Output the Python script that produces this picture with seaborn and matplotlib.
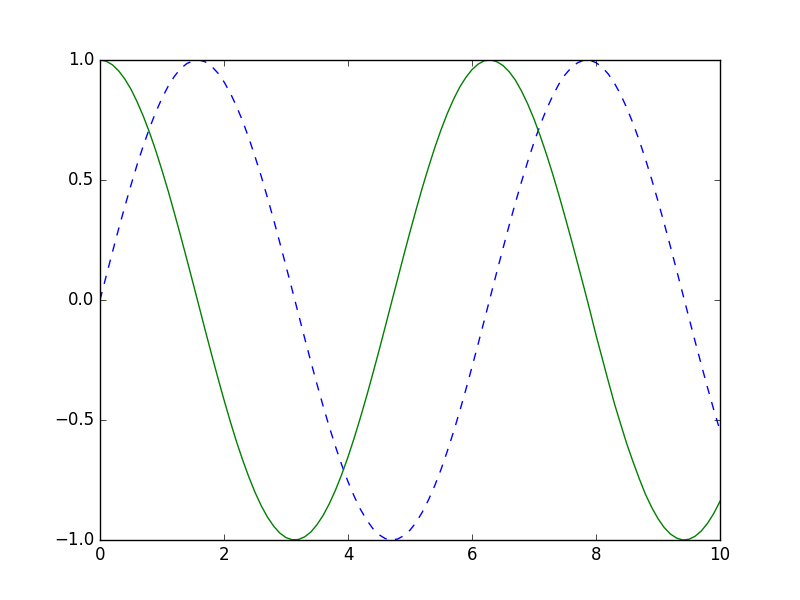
import matplotlib
matplotlib.use("Agg")
import matplotlib.pyplot as plt
import seaborn as sns
import pandas as pd

x_vals = [0.0, 0.1, 0.2, 0.3, 0.4, 0.5, 0.6, 0.7, 0.8, 0.9,
          1.0, 1.1, 1.2, 1.3, 1.4, 1.5, 1.6, 1.7, 1.8, 1.9,
          2.0, 2.1, 2.2, 2.3, 2.4, 2.5, 2.6, 2.7, 2.8, 2.9,
          3.0, 3.1, 3.2, 3.3, 3.4, 3.5, 3.6, 3.7, 3.8, 3.9,
          4.0, 4.1, 4.2, 4.3, 4.4, 4.5, 4.6, 4.7, 4.8, 4.9,
          5.0, 5.1, 5.2, 5.3, 5.4, 5.5, 5.6, 5.7, 5.8, 5.9,
          6.0, 6.1, 6.2, 6.3, 6.4, 6.5, 6.6, 6.7, 6.8, 6.9,
          7.0, 7.1, 7.2, 7.3, 7.4, 7.5, 7.6, 7.7, 7.8, 7.9,
          8.0, 8.1, 8.2, 8.3, 8.4, 8.5, 8.6, 8.7, 8.8, 8.9,
          9.0, 9.1, 9.2, 9.3, 9.4, 9.5, 9.6, 9.7, 9.8, 9.9, 10.0]

sin_vals = [0.000, 0.100, 0.199, 0.296, 0.389, 0.479, 0.565, 0.644, 0.717, 0.783,
            0.841, 0.891, 0.932, 0.964, 0.985, 0.997, 1.000, 0.992, 0.974, 0.946,
            0.909, 0.863, 0.808, 0.746, 0.675, 0.598, 0.516, 0.427, 0.335, 0.239,
            0.141, 0.042, -0.058, -0.158, -0.256, -0.351, -0.443, -0.530, -0.612, -0.688,
            -0.757, -0.818, -0.872, -0.916, -0.952, -0.978, -0.994, -1.000, -0.996, -0.982,
            -0.959, -0.926, -0.883, -0.832, -0.773, -0.706, -0.631, -0.551, -0.465, -0.374,
            -0.279, -0.182, -0.083, 0.017, 0.117, 0.215, 0.312, 0.405, 0.494, 0.578,
            0.657, 0.729, 0.794, 0.850, 0.899, 0.938, 0.968, 0.988, 0.999, 0.999,
            0.989, 0.970, 0.941, 0.902, 0.855, 0.798, 0.734, 0.663, 0.585, 0.501,
            0.412, 0.319, 0.223, 0.124, 0.025, -0.075, -0.174, -0.271, -0.366, -0.458, -0.544]

cos_vals = [1.000, 0.995, 0.980, 0.955, 0.921, 0.878, 0.825, 0.765, 0.697, 0.622,
            0.540, 0.454, 0.362, 0.267, 0.170, 0.071, -0.029, -0.129, -0.227, -0.323,
            -0.416, -0.505, -0.589, -0.666, -0.737, -0.801, -0.857, -0.904, -0.942, -0.971,
            -0.990, -0.999, -0.998, -0.987, -0.967, -0.936, -0.897, -0.848, -0.791, -0.726,
            -0.654, -0.575, -0.490, -0.401, -0.307, -0.211, -0.112, -0.012, 0.087, 0.187,
            0.284, 0.378, 0.469, 0.554, 0.635, 0.709, 0.776, 0.835, 0.886, 0.927,
            0.960, 0.983, 0.997, 1.000, 0.993, 0.977, 0.951, 0.916, 0.870, 0.816,
            0.754, 0.684, 0.608, 0.526, 0.439, 0.347, 0.253, 0.156, 0.058, -0.042,
            -0.146, -0.243, -0.340, -0.434, -0.519, -0.602, -0.676, -0.746, -0.811, -0.865,
            -0.911, -0.948, -0.975, -0.992, -1.000, -0.997, -0.984, -0.962, -0.930, -0.889, -0.839]

x_ticks = [0, 2, 4, 6, 8, 10]
y_ticks = [-1.0, -0.5, 0.0, 0.5, 1.0]

plt.style.use("classic")
df = pd.DataFrame({"x": x_vals, "sin": sin_vals, "cos": cos_vals})

fig = plt.figure(figsize=(8, 6), dpi=100, facecolor="white")
ax = fig.add_axes([0.125, 0.1, 0.775, 0.8])
sns.lineplot(data=df, x="x", y="sin", ax=ax, color="b", linestyle="--", linewidth=1)
sns.lineplot(data=df, x="x", y="cos", ax=ax, color="g", linestyle="-", linewidth=1)

ax.set_xlim(0, 10)
ax.set_ylim(-1.0, 1.0)
ax.set_xticks(x_ticks)
ax.set_yticks(y_ticks)
ax.set_xlabel("")
ax.set_ylabel("")
ax.tick_params(direction="in", top=True, right=True, labelsize=12)

fig.savefig("out.png", dpi=100, facecolor="white")
